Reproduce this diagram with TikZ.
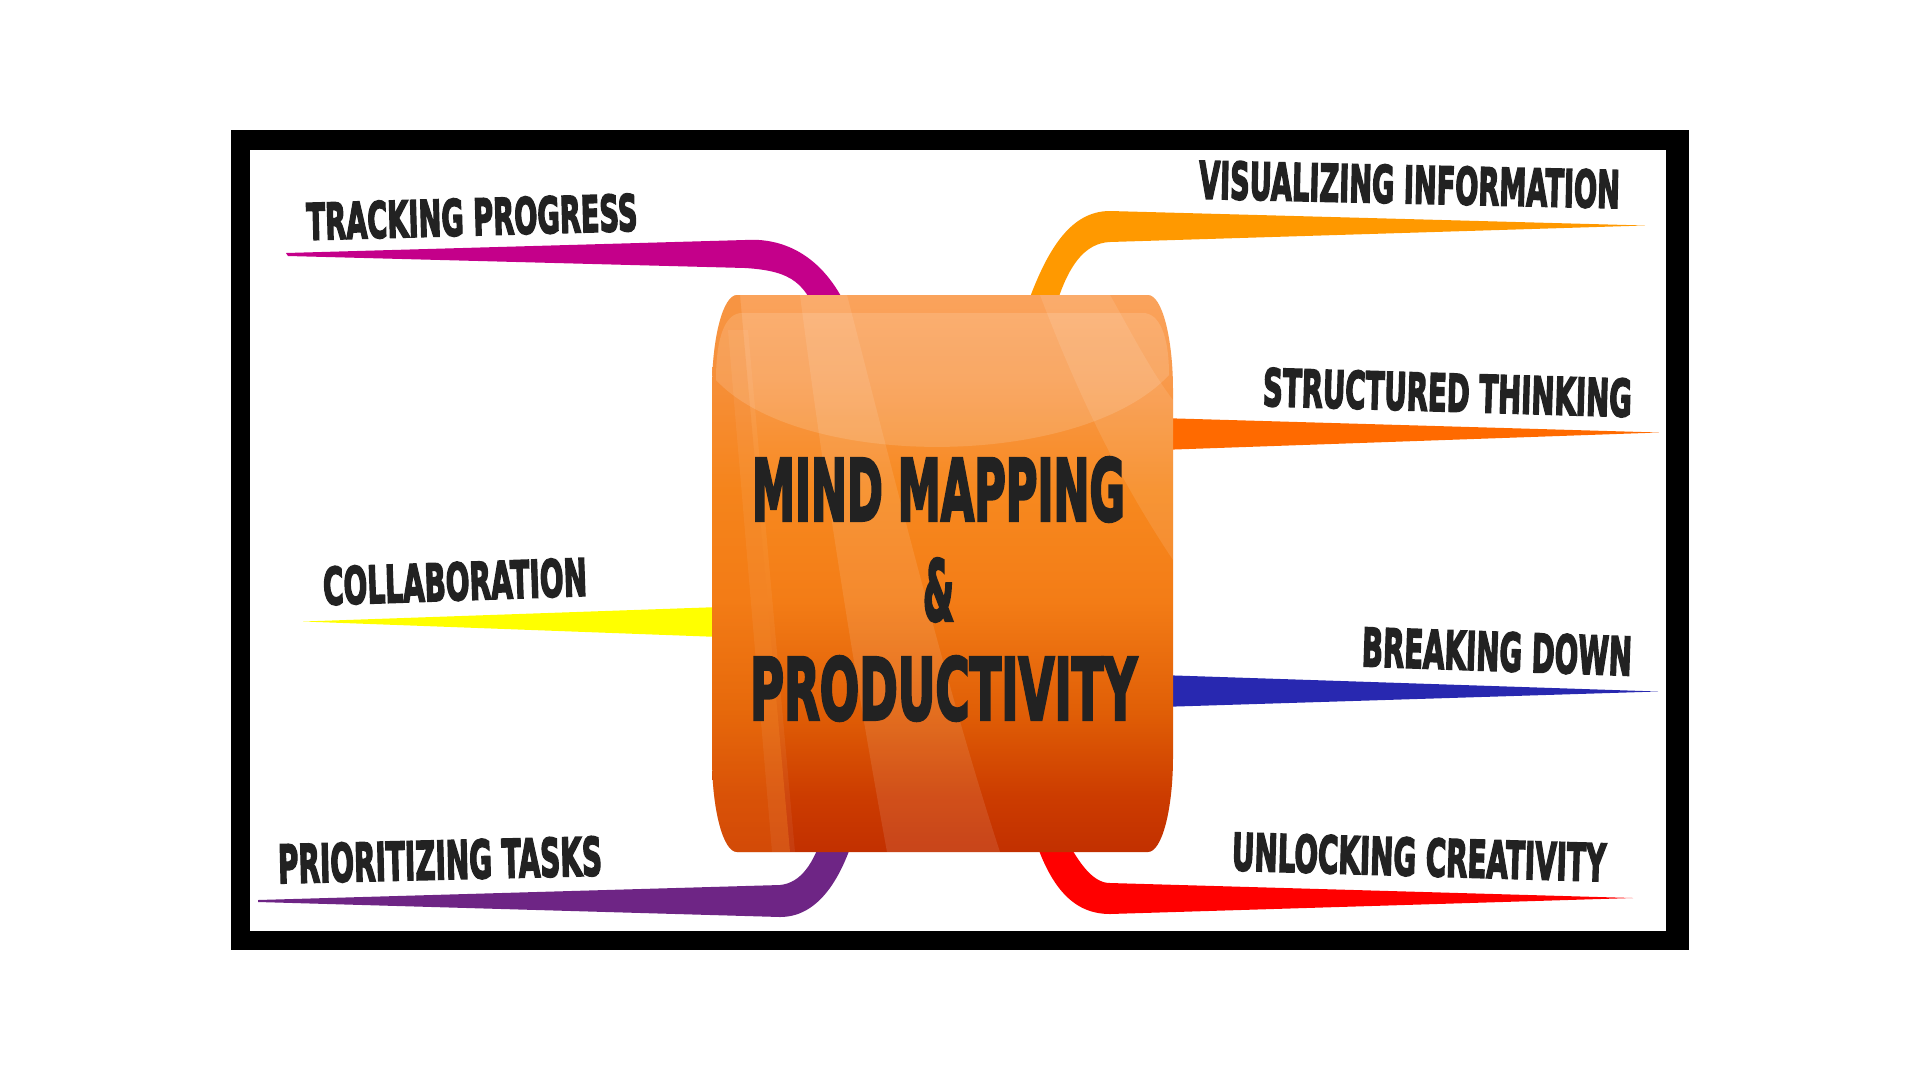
\documentclass[tikz,border=0pt]{standalone}
\usepackage{fontspec}
\usepackage{graphicx}
\newfontfamily\lbl{DejaVu Sans}[BoldFont={DejaVu Sans Bold}, BoldFeatures={FakeBold=4}]
\definecolor{txtc}{HTML}{222222}
\definecolor{magB}{HTML}{C4008A}
\definecolor{orV}{HTML}{FF9900}
\definecolor{orS}{HTML}{FF6A00}
\definecolor{bluB}{HTML}{2828B0}
\definecolor{redU}{HTML}{FF0000}
\definecolor{purP}{HTML}{6E2585}
\definecolor{yelC}{HTML}{FFFF00}
\definecolor{bxA}{HTML}{C23000}
\definecolor{bxB}{HTML}{CC3C00}
\definecolor{bxC}{HTML}{E05E06}
\definecolor{bxD}{HTML}{F37C16}
\definecolor{bxE}{HTML}{F7891F}
\definecolor{bxF}{HTML}{F99A4C}
\definecolor{bxG}{HTML}{FAA35C}
\pgfdeclareverticalshading{boxshade}{100bp}{color(0bp)=(bxA); color(25bp)=(bxA); color(30bp)=(bxB); color(37.5bp)=(bxC); color(47.5bp)=(bxD); color(57.5bp)=(bxE); color(67.5bp)=(bxF); color(75bp)=(bxG); color(100bp)=(bxG)}
\newcommand\fitt[3]{\resizebox{#1pt}{#2pt}{\lbl\bfseries #3}}
\newcommand\boxpath{(712,390) .. controls (712,338) and (723,295) .. (737,295) -- (1148,295) .. controls (1162,295) and (1173,338) .. (1173,390) -- (1173,757) .. controls (1173,809) and (1162,852) .. (1148,852) -- (737,852) .. controls (723,852) and (712,809) .. (712,757) -- cycle}
\tikzset{
  lbltxt/.style={inner sep=0pt, outer sep=0pt, text=txtc},
  branch/.style={draw=none},
}
\begin{document}
\begin{tikzpicture}[x=1pt,y=-1pt]
\useasboundingbox (0,0) rectangle (1920,1080);
\fill[white] (0,0) rectangle (1920,1080);
% frame
\fill[black] (231,130) rectangle (1689,950);
\fill[white] (250,150) rectangle (1666,931);
% branches
\fill[branch,magB] (286,253) -- (745,240) .. controls (790,237) and (830,262) .. (852,320) -- (820,320) .. controls (805,285) and (795,271) .. (745,268) -- (288,256) -- cycle;
\fill[branch,orV] (1022,320) .. controls (1045,250) and (1070,211) .. (1110,211) -- (1645,225.5) -- (1110,242) .. controls (1085,243) and (1066,265) .. (1052,320) -- cycle;
\fill[branch,orS] (1160,418) -- (1659,432.5) -- (1160,450) -- cycle;
\fill[branch,bluB] (1160,675) -- (1658,691.5) -- (1160,707) -- cycle;
\fill[branch,yelC] (303,621.5) -- (720,607) -- (720,637) -- cycle;
\fill[branch,redU] (1032,830) .. controls (1050,890) and (1075,914) .. (1110,914) -- (1633,898) -- (1110,883) .. controls (1095,883) and (1080,868) .. (1062,830) -- cycle;
\fill[branch,purP] (258,900) -- (780,885) .. controls (800,883) and (814,865) .. (824,830) -- (856,830) .. controls (840,885) and (815,917) .. (780,917) -- (258,902) -- cycle;
% central box
\shade[shading=boxshade] \boxpath;
\begin{scope}
  \clip \boxpath;
  \fill[bxD, opacity=0.35] (712,295) -- (740,295) -- (790,852) -- (712,852) -- cycle;
  \fill[white, opacity=0.10] (800,295) -- (847,295) .. controls (900,500) and (950,700) .. (1000,852) -- (887,852) .. controls (850,650) and (820,450) .. (800,295) -- cycle;
  \fill[white, opacity=0.10] (1040,295) -- (1110,295) .. controls (1130,330) and (1150,370) .. (1173,400) -- (1173,560) .. controls (1120,480) and (1080,400) .. (1040,295) -- cycle;
  \fill[white, opacity=0.06] (728,330) -- (748,330) -- (795,852) -- (772,852) -- cycle;
  \fill[white, opacity=0.14] (716,380) .. controls (716,335) and (726,313) .. (742,313) -- (1143,313) .. controls (1159,313) and (1169,335) .. (1169,375) .. controls (1080,470) and (800,470) .. (716,380) -- cycle;
\end{scope}
% central text
\node[lbltxt] (title1) at (938.5,489.5) {\fitt{373}{63}{MIND MAPPING}};
\node[lbltxt] (amp) at (938.5,590) {\fitt{31}{62}{\&}};
\node[lbltxt] (title2) at (943.5,688.5) {\fitt{387}{63}{PRODUCTIVITY}};
% labels
\node[lbltxt, rotate=1.6] (track) at (472,217) {\fitt{331}{37}{TRACKING PROGRESS}};
\node[lbltxt, rotate=-1.3] (visual) at (1409.5,184.5) {\fitt{421}{38}{VISUALIZING INFORMATION}};
\node[lbltxt, rotate=-1.7] (struct) at (1447.5,392.5) {\fitt{369}{38}{STRUCTURED THINKING}};
\node[lbltxt, rotate=2] (collab) at (455,581.5) {\fitt{264}{38}{COLLABORATION}};
\node[lbltxt, rotate=-2] (breakd) at (1497,651.5) {\fitt{270}{39}{BREAKING DOWN}};
\node[lbltxt, rotate=1.4] (prior) at (440,860) {\fitt{324}{39}{PRIORITIZING TASKS}};
\node[lbltxt, rotate=-1.7] (unlock) at (1419,857) {\fitt{374}{38}{UNLOCKING CREATIVITY}};
\end{tikzpicture}
\end{document}
